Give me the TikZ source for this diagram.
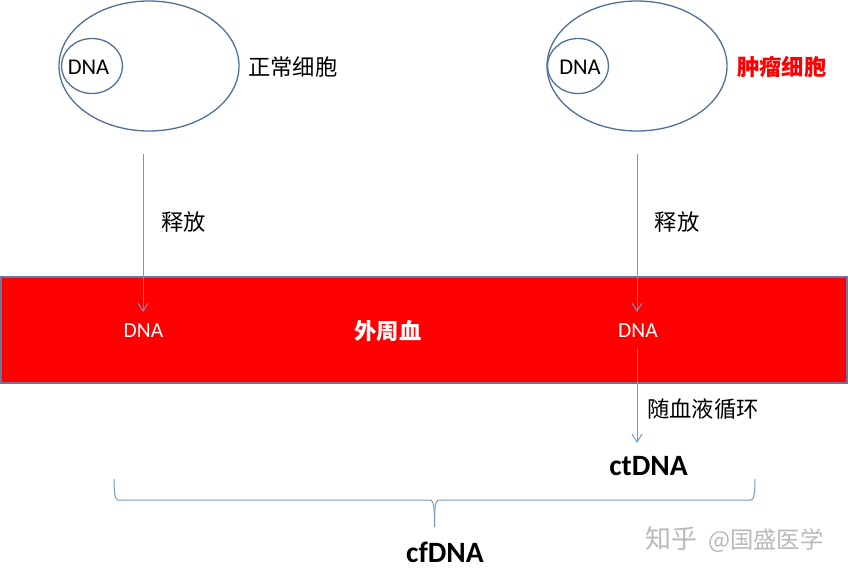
\documentclass[tikz,border=0pt]{standalone}
\usepackage{fontspec}
\setmainfont{Carlito}
\newfontfamily\cjk{Noto Sans CJK SC}
\usetikzlibrary{shapes.geometric,arrows.meta}
\definecolor{cellline}{RGB}{80,112,150}
\definecolor{arrowline}{RGB}{110,155,205}
\definecolor{bandline}{RGB}{110,115,160}
\definecolor{markgray}{RGB}{185,185,185}
\tikzset{
  cell/.style={draw=cellline,ellipse,line width=1.3pt,inner sep=0pt,outer sep=0pt},
  bigcell/.style={cell,minimum width=180pt,minimum height=130pt},
  smallcell/.style={cell,minimum width=61pt,minimum height=55pt},
  celldna/.style={font=\fontsize{22.5}{24}\selectfont,inner sep=0pt},
  label/.style={font=\fontsize{22.3}{24}\selectfont\cjk,inner sep=0pt,text=black},
  whitedna/.style={font=\fontsize{21.5}{24}\selectfont,text=white,inner sep=0pt},
  bigdna/.style={font=\fontsize{29.5}{32}\selectfont\bfseries,inner sep=0pt},
  link/.style={draw=arrowline,line width=1pt},
  release/.style={link,-{Straight Barb[length=8pt,width=10pt]}}
}
\begin{document}
\begin{tikzpicture}[x=1pt,y=-1pt]
\useasboundingbox (0,0) rectangle (848,574);

\node[bigcell] (normalcell) at (149,66) {};
\node[smallcell] (normalcore) at (92,66) {};
\node[celldna] (normaldna) at (88.5,67) {DNA};
\node[label,anchor=west] (normalname) at (248,67) {正常细胞};
\node[bigcell] (tumorcell) at (637,66) {};
\node[smallcell] (tumorcore) at (578,66) {};
\node[celldna] (tumordna) at (580,67) {DNA};
\node[label,anchor=west,text=red,font=\fontsize{22.3}{24}\selectfont\cjk\bfseries] (tumorname) at (737,67) {肿瘤细胞};

\node[draw=bandline,fill=red,line width=1.6pt,minimum width=846.4pt,minimum height=106pt,inner sep=0pt,outer sep=0pt,anchor=north west] (blood) at (0.8,277) {};
\node[whitedna] (blooddnaa) at (143.5,331) {DNA};
\node[whitedna] (blooddnab) at (638,331) {DNA};
\node[label,text=white,font=\fontsize{22.3}{24}\selectfont\cjk\bfseries] (bloodname) at (388,331) {外周血};

\coordinate (normalout) at (143,154);
\coordinate (tumorout) at (637,154);
\coordinate (normalin) at (143,312);
\coordinate (tumorin) at (637,312);
\coordinate (bloodout) at (637,348);
\coordinate (ctin) at (637,443);

\draw[release] (normalout) -- (normalin);
\draw[release] (tumorout) -- (tumorin);
\draw[release] (bloodout) -- (ctin);

\node[label] (releasea) at (183.5,222) {释放};
\node[label] (releaseb) at (677,222) {释放};
\node[label] (flow) at (703,409) {随血液循环};
\node[bigdna] (ctdna) at (648.5,466) {ctDNA};
\node[bigdna] (cfdna) at (445,552) {cfDNA};

\coordinate (braceleft) at (114,479);
\coordinate (braceright) at (755,479);
\coordinate (bracemid) at (434.5,527);
\draw[link] (braceleft) .. controls (114,492) and (115,500) .. (118,500) -- (431,500)
  .. controls (433.5,502) and (434.5,506) .. (bracemid);
\draw[link] (braceright) .. controls (755,492) and (754,500) .. (751,500) -- (438,500)
  .. controls (435.5,502) and (434.5,506) .. (bracemid);

\node[text=markgray,inner sep=0pt,anchor=west,font=\cjk] (watermark) at (645,540) {{\fontsize{26}{28}\selectfont 知乎}\hspace{11pt}{\fontsize{23.3}{28}\selectfont @国盛医学}};
\end{tikzpicture}
\end{document}
